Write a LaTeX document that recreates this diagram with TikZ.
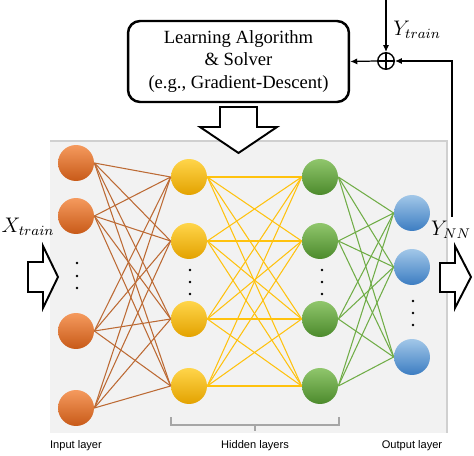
\documentclass[tikz,border=0pt]{standalone}
\usepackage{fontspec}
\setmainfont{Liberation Serif}
\setsansfont{Liberation Sans}
\usepackage{amsmath}
\usetikzlibrary{positioning, arrows.meta, calc}

\definecolor{panelgrey}{HTML}{F2F2F2}
\definecolor{panelline}{HTML}{D0D0D0}
\definecolor{orangetop}{HTML}{F59A5E}
\definecolor{orangebot}{HTML}{C85A18}
\definecolor{yellowtop}{HTML}{FFD54A}
\definecolor{yellowbot}{HTML}{E3A200}
\definecolor{greentop}{HTML}{90C66C}
\definecolor{greenbot}{HTML}{4C8A2C}
\definecolor{bluetop}{HTML}{A2C7E8}
\definecolor{bluebot}{HTML}{3C7DC2}
\definecolor{brownedge}{HTML}{BC6A34}
\definecolor{yellowedge}{HTML}{FFC20E}
\definecolor{greenedge}{HTML}{70AD47}
\definecolor{bracegrey}{HTML}{A6A6A6}

\begin{document}
\begin{tikzpicture}[x=0.02cm, y=-0.02cm,
    neuron/.style={circle, minimum size=0.72cm, inner sep=0pt},
    inneuron/.style={neuron, top color=orangetop, bottom color=orangebot},
    hidaneuron/.style={neuron, top color=yellowtop, bottom color=yellowbot},
    hidbneuron/.style={neuron, top color=greentop, bottom color=greenbot},
    outneuron/.style={neuron, top color=bluetop, bottom color=bluebot},
    inedge/.style={brownedge, line width=0.6pt},
    hidedge/.style={yellowedge, line width=0.6pt},
    outedge/.style={greenedge, line width=0.6pt},
    solverbox/.style={draw, rounded corners=0.24cm, line width=1.4pt, minimum width=4.42cm, minimum height=1.62cm, align=center, font=\fontsize{10.6}{12.8}\selectfont},
    sumnode/.style={draw, circle, line width=0.8pt, minimum size=0.33cm, inner sep=0pt},
    fbline/.style={line width=0.7pt},
    blockarrow/.style={draw, fill=white, line width=1.1pt, line join=miter},
    layerlabel/.style={font=\sffamily\fontsize{6.3}{7.5}\selectfont},
    mathlabel/.style={font=\fontsize{12}{14}\selectfont, inner sep=0pt}]
    \useasboundingbox (0,0) rectangle (474,456);

    \fill[panelgrey] (50,141) rectangle (447,433);
    \draw[panelline, line width=0.6pt] (50,141) -- (447,141) -- (447,433);

    \foreach \y [count=\k] in {163,216,331,408}
        \node[inneuron] (in\k) at (76,\y) {};
    \foreach \y [count=\k] in {177,241,319,386}
        \node[hidaneuron] (ha\k) at (189,\y) {};
    \foreach \y [count=\k] in {177,241,319,386}
        \node[hidbneuron] (hb\k) at (320,\y) {};
    \foreach \y [count=\k] in {213,267,357}
        \node[outneuron] (out\k) at (412,\y) {};

    \foreach \a in {1,...,4}
        \foreach \b in {1,...,4}
            \draw[inedge] (in\a.east) -- (ha\b.west);
    \foreach \a in {1,...,4}
        \foreach \b in {1,...,4}
            \draw[hidedge] (ha\a.east) -- (hb\b.west);
    \foreach \a in {1,...,4}
        \foreach \b in {1,...,3}
            \draw[outedge] (hb\a.east) -- (out\b.west);

    \foreach \y in {263,276,288} \fill (77,\y) circle (0.8pt);
    \foreach \y in {270,282,294} \fill (190,\y) circle (0.8pt);
    \foreach \y in {270,282,294} \fill (322,\y) circle (0.8pt);
    \foreach \y in {301,313,325} \fill (413,\y) circle (0.8pt);

    \draw[bracegrey, line width=0.7pt] (171,417) -- (171,425) -- (339,425) -- (339,417)
        (255,425) -- (255,431);
    \node[layerlabel] (inlabel) at (76,446) {Input layer};
    \node[layerlabel] (hidlabel) at (255,446) {Hidden layers};
    \node[layerlabel] (outlabel) at (412,446) {Output layer};

    \node[solverbox] (solver) at (238.5,61.5) {Learning Algorithm\\ \& Solver\\ (e.g., Gradient-Descent)};
    \node[sumnode] (sum) at (386,61) {};
    \draw[line width=0.8pt] (sum.north) -- (sum.south) (sum.west) -- (sum.east);
    \coordinate (ytop) at (386,0);
    \coordinate (fbstart) at (452,217);
    \draw[fbline, -{Latex[length=4pt,width=3.5pt]}] (ytop) -- (sum.north);
    \draw[fbline, -{Latex[length=4pt,width=3.5pt]}] (fbstart) |- (sum.east);
    \draw[fbline, -{Latex[length=4pt,width=3.5pt]}] (sum.west) -- (solver.east);
    \node[mathlabel] (ytrain) at (417,30) {$Y_{train}$};

    \draw[blockarrow] (220,107) -- (257,107) -- (257,127) -- (277,127) -- (238.5,153)
        -- (200,127) -- (220,127) -- cycle;
    \draw[blockarrow] (28,262) -- (43,262) -- (43,246) -- (58,277) -- (43,308)
        -- (43,292) -- (28,292) -- cycle;
    \draw[blockarrow] (440,263) -- (455,263) -- (455,246) -- (471,277) -- (455,308)
        -- (455,292) -- (440,292) -- cycle;
    \node[mathlabel] (xtrain) at (28,227) {$X_{train}$};
    \node[mathlabel] (ynn) at (451,230) {$Y_{NN}$};
\end{tikzpicture}
\end{document}
